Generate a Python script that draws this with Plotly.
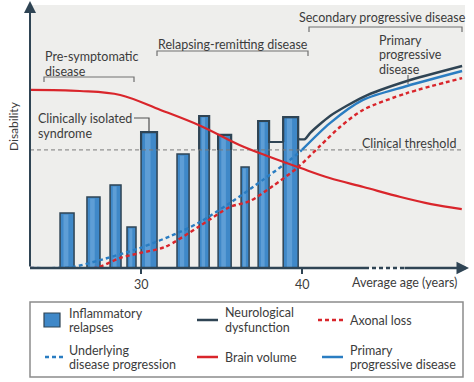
import plotly.graph_objects as go

# ---------------- data ----------------
relapse_age = [25.40, 27.04, 28.41, 29.40, 30.49, 32.60, 33.91, 35.18, 36.45, 37.60, 39.28]
relapse_dur = [0.87, 0.81, 0.68, 0.56, 0.99, 0.75, 0.62, 0.81, 0.50, 0.68, 0.93]
relapse_val = [20.9, 27.0, 31.6, 15.6, 51.7, 43.3, 57.8, 50.6, 38.4, 55.9, 57.4]

threshold = 44.9

brain_age = [23.1, 26.2, 28.7, 31.2, 33.7, 36.1, 38.0, 39.9, 41.7, 43.8, 46.1, 48.0, 49.9]
brain_val = [67.7, 67.3, 65.8, 60.1, 54.0, 46.8, 42.2, 38.0, 34.2, 30.8, 27.0, 24.3, 22.4]

under_age = [23.1, 24.84, 25.77, 27.45, 29.93, 32.41, 33.65, 35.51, 37.56, 39.24, 39.98]
under_val = [0, 0, 0.4, 3.0, 7.6, 13.7, 17.5, 24.7, 33.5, 41.1, 44.9]

ppd_age = [39.98, 41.72, 43.77, 46.50, 49.92]
ppd_val = [44.9, 55.1, 63.9, 69.2, 74.9]

axon_age = [23.1, 27.13, 28.69, 29.93, 31.48, 33.65, 35.51, 36.76, 38.18, 39.67, 41.10, 42.34, 43.77, 46.50, 49.92]
axon_val = [0, 0, 3.8, 5.7, 8.0, 16.0, 23.2, 25.5, 31.2, 38.0, 46.4, 53.6, 60.1, 66.5, 72.2]

# neurological dysfunction: remission plateau between last relapses, then progression
neuro_plateau_val = 47.9
neuro_age = [39.74, 40.17, 40.48, 41.72, 43.77, 46.50, 49.92]
neuro_val = [49.0, 49.0, 51.3, 57.8, 65.0, 71.1, 76.8]

x_ticks = [30, 40]

# ---------------- style ----------------
DARK = "#2f4454"
RED = "#d9252b"
BLUE = "#2a7dc2"
BAR = "#3f88c8"
BAR_HI = "#86bbe6"
TXT = "#3c3c3c"
FONT = "Lato"

X0, X1 = 23.1, 50.1
L, R, T, B = 30, 9, 5, 114
W, H = 474, 382
PW, PH = W - L - R, H - T - B


def PX(px):
    return (px - L) / PW


def PY(py):
    return (H - B - py) / PH


fig = go.Figure()

# bars
fig.add_trace(go.Bar(x=relapse_age, y=relapse_val, width=relapse_dur,
                     marker=dict(color=BAR, line=dict(color=DARK, width=1.5)),
                     showlegend=False, hoverinfo="skip"))
fig.add_trace(go.Bar(x=[a - d * 0.08 for a, d in zip(relapse_age, relapse_dur)],
                     y=[v - 0.6 for v in relapse_val],
                     width=[d * 0.35 for d in relapse_dur],
                     marker=dict(color=BAR_HI, opacity=0.45, line=dict(width=0)),
                     showlegend=False, hoverinfo="skip"))

# neurological dysfunction outline above threshold on the bars
nx, ny = [], []
above = [i for i, v in enumerate(relapse_val) if v > threshold]
for i in above:
    a, d, v = relapse_age[i], relapse_dur[i], relapse_val[i]
    lo = threshold
    hi_right = threshold
    if i == len(relapse_val) - 2:
        hi_right = neuro_plateau_val
    if i == len(relapse_val) - 1:
        lo = neuro_plateau_val
    nx += [a - d / 2, a - d / 2, a + d / 2, a + d / 2]
    ny += [lo, v, v, hi_right]
    if i == len(relapse_val) - 2:
        nx += [relapse_age[i + 1] - relapse_dur[i + 1] / 2]
        ny += [neuro_plateau_val]
    if i == len(relapse_val) - 1:
        nx += [a + d / 2]
        ny += [neuro_val[0]]
    nx.append(None)
    ny.append(None)
fig.add_trace(go.Scatter(x=nx, y=ny, mode="lines", line=dict(color=DARK, width=2.2),
                         showlegend=False, hoverinfo="skip", connectgaps=False))

# threshold
fig.add_trace(go.Scatter(x=[X0, 49.92], y=[threshold, threshold], mode="lines",
                         line=dict(color="#7a7a7a", width=1, dash="4px,3px"),
                         showlegend=False, hoverinfo="skip"))

# curves
fig.add_trace(go.Scatter(x=under_age, y=under_val, mode="lines",
                         line=dict(color=BLUE, width=2.4, dash="4px,3px", shape="spline", smoothing=0.8),
                         showlegend=False, hoverinfo="skip"))
fig.add_trace(go.Scatter(x=axon_age, y=axon_val, mode="lines",
                         line=dict(color=RED, width=2.4, dash="4px,3px", shape="spline", smoothing=0.8),
                         showlegend=False, hoverinfo="skip"))
fig.add_trace(go.Scatter(x=ppd_age, y=ppd_val, mode="lines",
                         line=dict(color=BLUE, width=2.4, shape="spline", smoothing=0.8),
                         showlegend=False, hoverinfo="skip"))
fig.add_trace(go.Scatter(x=neuro_age, y=neuro_val, mode="lines",
                         line=dict(color=DARK, width=2.4, shape="spline", smoothing=0.6),
                         showlegend=False, hoverinfo="skip"))
fig.add_trace(go.Scatter(x=brain_age, y=brain_val, mode="lines",
                         line=dict(color=RED, width=2.2, shape="spline", smoothing=1.0),
                         showlegend=False, hoverinfo="skip"))

shapes = []
annotations = []


def line(x0, y0, x1, y1, color=DARK, width=2.5, dash="solid"):
    shapes.append(dict(type="line", xref="paper", yref="paper",
                       x0=PX(x0), y0=PY(y0), x1=PX(x1), y1=PY(y1),
                       line=dict(color=color, width=width, dash=dash)))


def text(x, y, s, anchor="left", size=12, color=TXT):
    annotations.append(dict(xref="paper", yref="paper", x=PX(x), y=PY(y), text=s,
                            showarrow=False, xanchor=anchor, yanchor="middle",
                            font=dict(family=FONT, size=size, color=color), align=anchor))


def bracket(x0, x1, y, drop=5):
    shapes.append(dict(type="path", xref="paper", yref="paper",
                       path=f"M {PX(x0)},{PY(y + drop)} L {PX(x0)},{PY(y)} L {PX(x1)},{PY(y)} L {PX(x1)},{PY(y + drop)}",
                       line=dict(color="#707070", width=1.2)))


# axes
annotations.append(dict(xref="paper", yref="paper", x=PX(30), y=PY(1), ax=0, ay=267,
                        axref="pixel", ayref="pixel", text="", showarrow=True,
                        arrowhead=2, arrowsize=1.2, arrowwidth=2, arrowcolor=DARK))
line(30, 268, 365, 268)
line(365, 268, 404, 268, dash="4px,3px")
annotations.append(dict(xref="paper", yref="paper", x=PX(469), y=PY(268), ax=-66, ay=0,
                        text="", showarrow=True, arrowhead=2, arrowsize=1.0,
                        arrowwidth=2.5, arrowcolor=DARK))

# brackets and phase labels
bracket(44, 134, 77)
text(43, 56, "Pre-symptomatic", size=12.5)
text(43, 71, "disease", size=12.5)
bracket(157, 308, 51)
text(156, 45, "Relapsing-remitting disease", size=12.5)
bracket(309, 462, 27)
text(468, 18, "Secondary progressive disease", anchor="right", size=12.5)
text(377, 40, "Primary", size=12.5)
text(377, 55, "progressive", size=12.5)
text(377, 69, "disease", size=12.5)
line(408, 75, 408, 84, color="#505050", width=1)

text(36, 118, "Clinically isolated", size=12.5)
text(36, 133, "syndrome", size=12.5)
shapes.append(dict(type="path", xref="paper", yref="paper",
                   path=f"M {PX(134)},{PY(118)} L {PX(149)},{PY(118)} L {PX(149)},{PY(131)}",
                   line=dict(color="#505050", width=1.2)))

text(458, 143, "Clinical threshold", anchor="right", size=12.5)
text(459, 282, "Average age (years)", anchor="right", size=12.5)
annotations.append(dict(xref="paper", yref="paper", x=PX(13), y=PY(126), text="Disability",
                        textangle=-90, showarrow=False, xanchor="center", yanchor="middle",
                        font=dict(family=FONT, size=12, color=TXT)))

# legend box
shapes.append(dict(type="rect", xref="paper", yref="paper", x0=PX(30), y0=PY(302),
                   x1=PX(463), y1=PY(377), line=dict(color="#8c8c8c", width=1.5),
                   fillcolor="white"))
shapes.append(dict(type="rect", xref="paper", yref="paper", x0=PX(44), y0=PY(313),
                   x1=PX(60), y1=PY(327), line=dict(color=DARK, width=1.2), fillcolor=BAR))
text(67, 313, "Inflammatory", size=12.5)
text(67, 327, "relapses", size=12.5)
line(197, 320, 218, 320, color=DARK, width=2.5)
text(223, 312, "Neurological", size=12.5)
text(223, 327, "dysfunction", size=12.5)
line(318, 320, 343, 320, color=RED, width=2.5, dash="4px,3px")
text(348, 320, "Axonal loss", size=12.5)
line(45, 357, 63, 357, color=BLUE, width=2.5, dash="4px,3px")
text(67, 350, "Underlying", size=12.5)
text(67, 364, "disease progression", size=12.5)
line(197, 357, 218, 357, color=RED, width=2.5)
text(223, 357, "Brain volume", size=12.5)
line(322, 357, 343, 357, color=BLUE, width=2.5)
text(348, 350, "Primary", size=12.5)
text(348, 364, "progressive disease", size=12.5)

fig.update_layout(
    width=W, height=H,
    margin=dict(l=L, r=R, t=T, b=B),
    paper_bgcolor="white",
    plot_bgcolor="#eeeeec",
    barmode="overlay",
    showlegend=False,
    shapes=shapes,
    annotations=annotations,
    font=dict(family=FONT, size=12, color=TXT),
    xaxis=dict(range=[X0, X1], showgrid=False, zeroline=False, showline=False,
               tickvals=x_ticks, ticktext=[str(t) for t in x_ticks],
               ticks="outside", ticklen=5, tickwidth=2, tickcolor=DARK,
               tickfont=dict(family=FONT, size=12.5, color=TXT)),
    yaxis=dict(range=[0, 100], showgrid=False, zeroline=False, showline=False,
               showticklabels=False, ticks=""),
)

fig.write_html("out.html", config={"displayModeBar": False, "staticPlot": True},
               post_script="document.body.style.margin='0';document.body.style.overflow='hidden';")
